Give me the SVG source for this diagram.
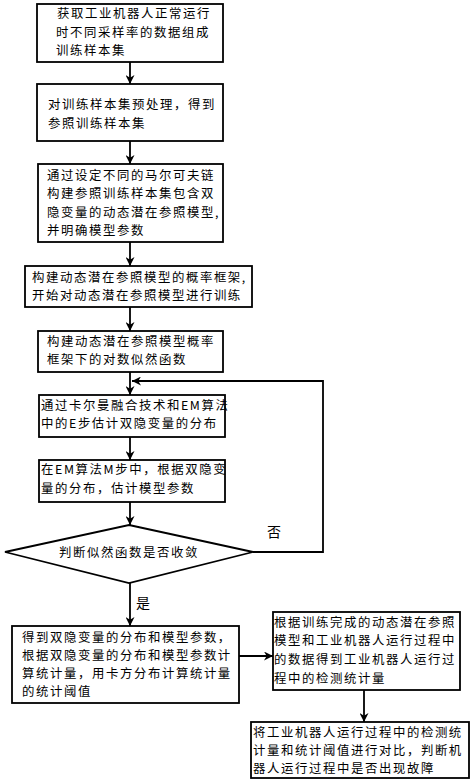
<svg xmlns="http://www.w3.org/2000/svg" width="474" height="783" viewBox="0 0 474 783">
<defs>
<style>
.box{fill:#fff;stroke:#000;stroke-width:1.8}
.t{font-family:"Noto Sans CJK SC","Noto Sans CJK JP",sans-serif;font-size:12.4px;letter-spacing:1.6px;fill:#000}
.ln{fill:none;stroke:#000;stroke-width:1.8}
</style>
<marker id="ah" viewBox="0 0 10 10" refX="10" refY="5" markerWidth="9" markerHeight="9" markerUnits="userSpaceOnUse" orient="auto">
<path d="M0,0 L10,5 L0,10 L3,5 Z" fill="#000"/>
</marker>
</defs>
<rect width="474" height="783" fill="#fff"/>
<g id="connectors">
<line class="ln" x1="130" y1="62" x2="130" y2="84" marker-end="url(#ah)"/>
<line class="ln" x1="130" y1="141" x2="130" y2="164" marker-end="url(#ah)"/>
<line class="ln" x1="130" y1="242" x2="130" y2="266" marker-end="url(#ah)"/>
<line class="ln" x1="130" y1="307" x2="130" y2="331" marker-end="url(#ah)"/>
<line class="ln" x1="130" y1="372" x2="130" y2="395" marker-end="url(#ah)"/>
<line class="ln" x1="130" y1="437" x2="130" y2="460" marker-end="url(#ah)"/>
<line class="ln" x1="130" y1="502" x2="130" y2="525" marker-end="url(#ah)"/>
<polyline class="ln" points="253,552 323,552 323,381 132,381" marker-end="url(#ah)"/>
<line class="ln" x1="130" y1="583" x2="130" y2="626" marker-end="url(#ah)"/>
<line class="ln" x1="239" y1="656" x2="273" y2="656" marker-end="url(#ah)"/>
<line class="ln" x1="364" y1="690" x2="364" y2="722" marker-end="url(#ah)"/>
<text class="t" x="267" y="537" style="font-size:14px;letter-spacing:0">否</text>
<text class="t" x="136" y="608" style="font-size:14px;letter-spacing:0">是</text>
</g>
<g id="n1">
<rect class="box" x="37" y="4" width="186" height="58"/>
<text class="t" x="57" y="18">获取工业机器人正常运行</text>
<text class="t" x="56" y="36.5">时不同采样率的数据组成</text>
<text class="t" x="56" y="55">训练样本集</text>
</g>
<g id="n2">
<rect class="box" x="37" y="84" width="186" height="57"/>
<text class="t" x="48" y="109">对训练样本集预处理，得到</text>
<text class="t" x="48" y="128">参照训练样本集</text>
</g>
<g id="n3">
<rect class="box" x="38" y="164" width="185" height="78"/>
<text class="t" x="47" y="180">通过设定不同的马尔可夫链</text>
<text class="t" x="47" y="198">构建参照训练样本集包含双</text>
<text class="t" x="47" y="216.5">隐变量的动态潜在参照模型,</text>
<text class="t" x="47" y="235">并明确模型参数</text>
</g>
<g id="n4">
<rect class="box" x="25" y="266" width="227" height="41"/>
<text class="t" x="32" y="282">构建动态潜在参照模型的概率框架,</text>
<text class="t" x="32" y="300">开始对动态潜在参照模型进行训练</text>
</g>
<g id="n5">
<rect class="box" x="38" y="331" width="185" height="41"/>
<text class="t" x="47" y="346">构建动态潜在参照模型概率</text>
<text class="t" x="47" y="364">框架下的对数似然函数</text>
</g>
<g id="n6">
<rect class="box" x="39" y="395" width="186" height="42"/>
<text class="t" x="41" y="410">通过卡尔曼融合技术和EM算法</text>
<text class="t" x="41" y="428">中的E步估计双隐变量的分布</text>
</g>
<g id="n7">
<rect class="box" x="39" y="460" width="186" height="42"/>
<text class="t" x="41" y="474">在EM算法M步中，根据双隐变</text>
<text class="t" x="41" y="493">量的分布，估计模型参数</text>
</g>
<g id="n8">
<polygon class="box" points="129,525 253,552 129,583 5,552"/>
<text class="t" x="129" y="557" text-anchor="middle">判断似然函数是否收敛</text>
</g>
<g id="n9">
<rect class="box" x="12" y="626" width="227" height="77"/>
<text class="t" x="22" y="642">得到双隐变量的分布和模型参数，</text>
<text class="t" x="22" y="660">根据双隐变量的分布和模型参数计</text>
<text class="t" x="22" y="678">算统计量，用卡方分布计算统计量</text>
<text class="t" x="22" y="696">的统计阈值</text>
</g>
<g id="n10">
<rect class="box" x="273" y="612" width="187" height="78"/>
<text class="t" x="274" y="627">根据训练完成的动态潜在参照</text>
<text class="t" x="274" y="645">模型和工业机器人运行过程中</text>
<text class="t" x="274" y="664">的数据得到工业机器人运行过</text>
<text class="t" x="274" y="683">程中的检测统计量</text>
</g>
<g id="n11">
<rect class="box" x="251" y="722" width="218" height="56"/>
<text class="t" x="253" y="737">将工业机器人运行过程中的检测统</text>
<text class="t" x="253" y="755">计量和统计阈值进行对比，判断机</text>
<text class="t" x="253" y="773">器人运行过程中是否出现故障</text>
</g>
</svg>
